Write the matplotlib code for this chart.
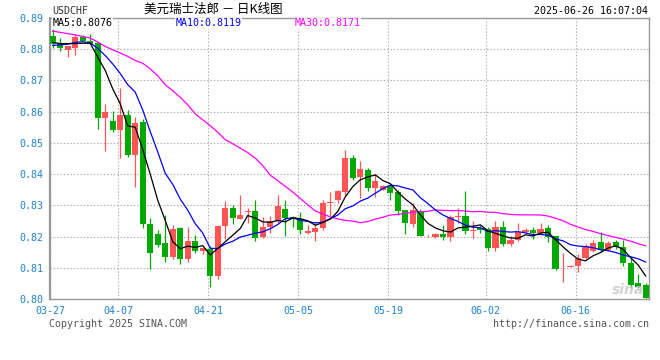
import numpy as np
import pandas as pd
import matplotlib
matplotlib.use("Agg")
import matplotlib.pyplot as plt

# datos (USD/CHF diario)
opens = [0.8843, 0.8819, 0.8799, 0.8805, 0.8839, 0.8827, 0.8820, 0.8581, 0.8571, 0.8542,
         0.8588, 0.8460, 0.8568, 0.8241, 0.8209, 0.8180, 0.8134, 0.8226, 0.8128, 0.8187,
         0.8153, 0.8161, 0.8075, 0.8235, 0.8292, 0.8255, 0.8279, 0.8283, 0.8198, 0.8230,
         0.8251, 0.8289, 0.8263, 0.8255, 0.8210, 0.8214, 0.8226, 0.8308, 0.8318, 0.8342,
         0.8452, 0.8391, 0.8414, 0.8354, 0.8350, 0.8361, 0.8342, 0.8284, 0.8239, 0.8281,
         0.8201, 0.8199, 0.8207, 0.8199, 0.8262, 0.8267, 0.8218, 0.8228, 0.8223, 0.8164,
         0.8231, 0.8177, 0.8188, 0.8214, 0.8220, 0.8212, 0.8226, 0.8201, 0.8102, 0.8102,
         0.8105, 0.8130, 0.8153, 0.8182, 0.8156, 0.8182, 0.8167, 0.8116, 0.8050, 0.8044]
highs = [0.8864, 0.8835, 0.8811, 0.8849, 0.8846, 0.8849, 0.8824, 0.8625, 0.8603, 0.8677,
         0.8606, 0.8584, 0.8577, 0.8258, 0.8222, 0.8268, 0.8238, 0.8230, 0.8232, 0.8204,
         0.8164, 0.8171, 0.8238, 0.8313, 0.8302, 0.8334, 0.8292, 0.8318, 0.8263, 0.8267,
         0.8334, 0.8318, 0.8267, 0.8278, 0.8238, 0.8245, 0.8318, 0.8342, 0.8350, 0.8478,
         0.8462, 0.8441, 0.8420, 0.8400, 0.8365, 0.8369, 0.8350, 0.8286, 0.8306, 0.8289,
         0.8204, 0.8212, 0.8237, 0.8270, 0.8292, 0.8347, 0.8249, 0.8238, 0.8231, 0.8249,
         0.8249, 0.8203, 0.8245, 0.8228, 0.8231, 0.8242, 0.8236, 0.8203, 0.8148, 0.8109,
         0.8143, 0.8175, 0.8190, 0.8214, 0.8185, 0.8190, 0.8190, 0.8135, 0.8079, 0.8050]
lows = [0.8803, 0.8795, 0.8776, 0.8780, 0.8827, 0.8818, 0.8545, 0.8475, 0.8535, 0.8452,
        0.8454, 0.8358, 0.8228, 0.8097, 0.8166, 0.8118, 0.8127, 0.8113, 0.8119, 0.8147,
        0.8145, 0.8038, 0.8063, 0.8193, 0.8239, 0.8255, 0.8244, 0.8187, 0.8194, 0.8210,
        0.8244, 0.8203, 0.8231, 0.8207, 0.8207, 0.8185, 0.8220, 0.8267, 0.8306, 0.8329,
        0.8380, 0.8324, 0.8345, 0.8327, 0.8348, 0.8316, 0.8270, 0.8207, 0.8231, 0.8201,
        0.8200, 0.8195, 0.8188, 0.8185, 0.8244, 0.8207, 0.8196, 0.8210, 0.8155, 0.8153,
        0.8169, 0.8171, 0.8185, 0.8210, 0.8193, 0.8209, 0.8182, 0.8092, 0.8054, 0.8101,
        0.8086, 0.8127, 0.8150, 0.8150, 0.8154, 0.8159, 0.8107, 0.8036, 0.8036, 0.8002]
closes = [0.8817, 0.8803, 0.8811, 0.8838, 0.8827, 0.8818, 0.8581, 0.8599, 0.8542, 0.8588,
          0.8460, 0.8564, 0.8241, 0.8147, 0.8172, 0.8134, 0.8225, 0.8128, 0.8187, 0.8153,
          0.8162, 0.8075, 0.8235, 0.8292, 0.8258, 0.8270, 0.8282, 0.8194, 0.8231, 0.8251,
          0.8299, 0.8260, 0.8257, 0.8220, 0.8217, 0.8226, 0.8306, 0.8310, 0.8345, 0.8452,
          0.8388, 0.8416, 0.8354, 0.8377, 0.8361, 0.8338, 0.8281, 0.8242, 0.8284, 0.8201,
          0.8203, 0.8207, 0.8198, 0.8263, 0.8267, 0.8217, 0.8220, 0.8220, 0.8164, 0.8231,
          0.8175, 0.8188, 0.8214, 0.8220, 0.8212, 0.8223, 0.8199, 0.8097, 0.8104, 0.8107,
          0.8132, 0.8171, 0.8178, 0.8156, 0.8180, 0.8166, 0.8116, 0.8044, 0.8039, 0.8004]

# medias al inicio (dependen de datos previos)
ma5_head = [0.8822, 0.8818, 0.8818, 0.8818]
ma10_head = [0.8812, 0.8814, 0.8816, 0.8822, 0.8824, 0.8820, 0.8803, 0.8780, 0.8753]
ma30_head = [0.8858, 0.8854, 0.8850, 0.8846, 0.8841, 0.8836, 0.8823, 0.8809, 0.8798, 0.8788,
             0.8777, 0.8764, 0.8755, 0.8737, 0.8715, 0.8686, 0.8667, 0.8646, 0.8622, 0.8593,
             0.8574, 0.8555, 0.8534, 0.8510, 0.8497, 0.8483, 0.8469, 0.8451, 0.8427]

tick_labels = ["03-27", "04-07", "04-21", "05-05", "05-19", "06-02", "06-16"]
tick_idx = [0, 9, 21, 33, 45, 58, 70]
y_ticks = [0.80, 0.81, 0.82, 0.83, 0.84, 0.85, 0.86, 0.87, 0.88, 0.89]

ma_labels = ["MA5:0.8076", "MA10:0.8119", "MA30:0.8171"]

ROJO = "#ff5555"
VERDE = "#00a800"
AZUL_TXT = "#1e82d2"
MONO = "DejaVu Sans Mono"

s = pd.Series(closes)
def media(n, head):
    m = s.rolling(n).mean().to_numpy()
    m[:len(head)] = head
    return m

ma5 = media(5, ma5_head)
ma10 = media(10, ma10_head)
ma30 = media(30, ma30_head)

fig = plt.figure(figsize=(6.6, 3.6), dpi=100)
ax = fig.add_axes([50 / 660, (360 - 299) / 360, 599 / 660, 281 / 360])

x = np.arange(len(closes))
o = np.array(opens); c = np.array(closes)
colores = [ROJO if cc >= oo else VERDE for oo, cc in zip(o, c)]

ax.vlines(x, lows, highs, colors=colores, linewidth=0.9, zorder=2)
alto = np.maximum(np.abs(c - o), 0.00004)
ax.bar(x, alto, bottom=np.minimum(o, c), width=0.82, color=colores, linewidth=0, zorder=3)

ax.plot(x, ma30, color="#ff00ff", lw=0.9, zorder=4)
ax.plot(x, ma10, color="#0000ff", lw=0.9, zorder=4)
ax.plot(x, ma5, color="black", lw=0.9, zorder=5)

ax.set_xlim(-0.35, len(closes) - 0.55)
ax.set_ylim(0.80, 0.89)
ax.set_yticks(y_ticks)
ax.set_yticklabels(["%.2f" % v for v in y_ticks])
ax.set_xticks(np.array(tick_idx) - 0.3)
ax.set_xticklabels(tick_labels)
ax.tick_params(length=0, colors=AZUL_TXT, labelsize=7.2)
ax.tick_params(axis="y", pad=5)
ax.tick_params(axis="x", pad=5)
for lab in ax.get_xticklabels() + ax.get_yticklabels():
    lab.set_family(MONO)

ax.grid(True, color="#aaaaaa", linestyle=(0, (1.2, 1.8)), lw=0.8, zorder=0)
ax.set_axisbelow(True)
for sp in ax.spines.values():
    sp.set_color("#999999")
    sp.set_linewidth(1.0)
ax.spines["left"].set_linewidth(1.6)

# leyenda de medias
for txt, col, xp in zip(ma_labels, ["black", "#0000ff", "#ff00ff"], [0.004, 0.209, 0.409]):
    ax.text(xp, 0.981, txt, transform=ax.transAxes, color=col, fontsize=7.2,
            family=MONO, ha="left", va="center", zorder=10,
            bbox=dict(fc="white", ec="none", pad=0.3))

fig.text(52 / 660, 1 - 11 / 360, "USDCHF", family=MONO, fontsize=7.2, color="#333333",
         ha="left", va="center")
fig.text(213 / 660, 1 - 9 / 360, "美元瑞士法郎 － 日K线图", fontsize=9, color="black",
         family=["Noto Sans CJK SC", "DejaVu Sans"], ha="center", va="center")
fig.text(648 / 660, 1 - 11 / 360, "2025-06-26 16:07:04", family=MONO, fontsize=7.2,
         color="black", ha="right", va="center")
fig.text(49 / 660, 1 - 324 / 360, "Copyright 2025 SINA.COM", family=MONO, fontsize=7.2,
         color="#555555", ha="left", va="center")
fig.text(649 / 660, 1 - 324 / 360, "http://finance.sina.com.cn", family=MONO, fontsize=7.2,
         color="#555555", ha="right", va="center")
fig.text(628 / 660, 1 - 290 / 360, "sina", fontsize=10, color="#c8c8c8", style="italic",
         weight="bold", ha="center", va="center", alpha=0.8)

fig.savefig("out.png", dpi=100)
